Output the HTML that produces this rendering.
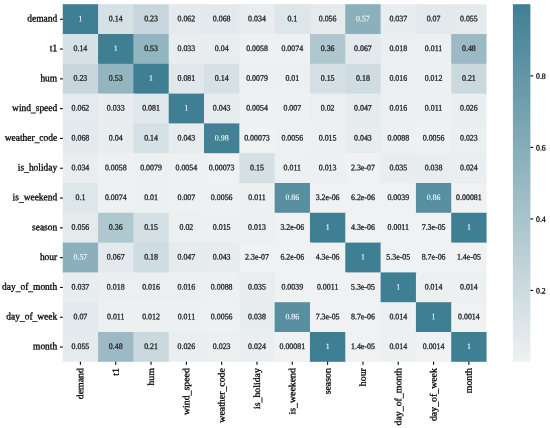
<!DOCTYPE html>
<html><head><meta charset="utf-8"><title>heatmap</title>
<style>
html,body{margin:0;padding:0;background:#fff;overflow:hidden;}
svg{display:block;font-family:"Liberation Serif","Times New Roman",serif;}
.a{font-size:7.9px;text-anchor:middle;stroke-width:0.3px;}
.t{font-size:9.45px;stroke:#000;stroke-width:0.28px;}
.c{font-size:7.85px;stroke:#000;stroke-width:0.25px;}
</style></head>
<body>
<svg width="550" height="428" viewBox="0 0 550 428">
<rect x="0" y="0" width="550" height="428" fill="#ffffff"/>
<defs><linearGradient id="g" x1="0" y1="0" x2="0" y2="1"><stop offset="0" stop-color="#3f7f93"/><stop offset="1" stop-color="#eff1f2"/></linearGradient></defs>
<g>
<rect x="62.75" y="4.2" width="36.32" height="30.8" fill="#3f7f93"/><rect x="98.07" y="4.2" width="36.32" height="30.8" fill="#d6e1e5"/><rect x="133.38" y="4.2" width="36.32" height="30.8" fill="#c7d7dd"/><rect x="168.7" y="4.2" width="36.32" height="30.8" fill="#e4eaed"/><rect x="204.02" y="4.2" width="36.32" height="30.8" fill="#e3e9ec"/><rect x="239.33" y="4.2" width="36.32" height="30.8" fill="#e9edef"/><rect x="274.65" y="4.2" width="36.32" height="30.8" fill="#dde6e9"/><rect x="309.97" y="4.2" width="36.32" height="30.8" fill="#e5ebed"/><rect x="345.28" y="4.2" width="36.32" height="30.8" fill="#8bb0bc"/><rect x="380.6" y="4.2" width="36.32" height="30.8" fill="#e8edef"/><rect x="415.92" y="4.2" width="36.32" height="30.8" fill="#e3e9ec"/><rect x="451.23" y="4.2" width="35.32" height="30.8" fill="#e5ebed"/>
<rect x="62.75" y="34" width="36.32" height="30.8" fill="#d6e1e5"/><rect x="98.07" y="34" width="36.32" height="30.8" fill="#3f7f93"/><rect x="133.38" y="34" width="36.32" height="30.8" fill="#92b5c0"/><rect x="168.7" y="34" width="36.32" height="30.8" fill="#e9edef"/><rect x="204.02" y="34" width="36.32" height="30.8" fill="#e8edee"/><rect x="239.33" y="34" width="36.32" height="30.8" fill="#eef1f2"/><rect x="274.65" y="34" width="36.32" height="30.8" fill="#eef1f2"/><rect x="309.97" y="34" width="36.32" height="30.8" fill="#afc8d0"/><rect x="345.28" y="34" width="36.32" height="30.8" fill="#e3e9ec"/><rect x="380.6" y="34" width="36.32" height="30.8" fill="#eceff1"/><rect x="415.92" y="34" width="36.32" height="30.8" fill="#edf0f1"/><rect x="451.23" y="34" width="35.32" height="30.8" fill="#9bbac5"/>
<rect x="62.75" y="63.8" width="36.32" height="30.8" fill="#c7d7dd"/><rect x="98.07" y="63.8" width="36.32" height="30.8" fill="#92b5c0"/><rect x="133.38" y="63.8" width="36.32" height="30.8" fill="#3f7f93"/><rect x="168.7" y="63.8" width="36.32" height="30.8" fill="#e1e8eb"/><rect x="204.02" y="63.8" width="36.32" height="30.8" fill="#d6e1e5"/><rect x="239.33" y="63.8" width="36.32" height="30.8" fill="#edf0f1"/><rect x="274.65" y="63.8" width="36.32" height="30.8" fill="#edf0f1"/><rect x="309.97" y="63.8" width="36.32" height="30.8" fill="#d4e0e4"/><rect x="345.28" y="63.8" width="36.32" height="30.8" fill="#cfdce1"/><rect x="380.6" y="63.8" width="36.32" height="30.8" fill="#eceff1"/><rect x="415.92" y="63.8" width="36.32" height="30.8" fill="#ecf0f1"/><rect x="451.23" y="63.8" width="35.32" height="30.8" fill="#cad9de"/>
<rect x="62.75" y="93.6" width="36.32" height="30.8" fill="#e4eaed"/><rect x="98.07" y="93.6" width="36.32" height="30.8" fill="#e9edef"/><rect x="133.38" y="93.6" width="36.32" height="30.8" fill="#e1e8eb"/><rect x="168.7" y="93.6" width="36.32" height="30.8" fill="#3f7f93"/><rect x="204.02" y="93.6" width="36.32" height="30.8" fill="#e7ecee"/><rect x="239.33" y="93.6" width="36.32" height="30.8" fill="#eef1f2"/><rect x="274.65" y="93.6" width="36.32" height="30.8" fill="#eef1f2"/><rect x="309.97" y="93.6" width="36.32" height="30.8" fill="#ebeff0"/><rect x="345.28" y="93.6" width="36.32" height="30.8" fill="#e6ecee"/><rect x="380.6" y="93.6" width="36.32" height="30.8" fill="#eceff1"/><rect x="415.92" y="93.6" width="36.32" height="30.8" fill="#edf0f1"/><rect x="451.23" y="93.6" width="35.32" height="30.8" fill="#eaeef0"/>
<rect x="62.75" y="123.4" width="36.32" height="30.8" fill="#e3e9ec"/><rect x="98.07" y="123.4" width="36.32" height="30.8" fill="#e8edee"/><rect x="133.38" y="123.4" width="36.32" height="30.8" fill="#d6e1e5"/><rect x="168.7" y="123.4" width="36.32" height="30.8" fill="#e7ecee"/><rect x="204.02" y="123.4" width="36.32" height="30.8" fill="#428195"/><rect x="239.33" y="123.4" width="36.32" height="30.8" fill="#eff1f2"/><rect x="274.65" y="123.4" width="36.32" height="30.8" fill="#eef1f2"/><rect x="309.97" y="123.4" width="36.32" height="30.8" fill="#ecf0f1"/><rect x="345.28" y="123.4" width="36.32" height="30.8" fill="#e7ecee"/><rect x="380.6" y="123.4" width="36.32" height="30.8" fill="#edf0f1"/><rect x="415.92" y="123.4" width="36.32" height="30.8" fill="#eef1f2"/><rect x="451.23" y="123.4" width="35.32" height="30.8" fill="#ebeff0"/>
<rect x="62.75" y="153.2" width="36.32" height="30.8" fill="#e9edef"/><rect x="98.07" y="153.2" width="36.32" height="30.8" fill="#eef1f2"/><rect x="133.38" y="153.2" width="36.32" height="30.8" fill="#edf0f1"/><rect x="168.7" y="153.2" width="36.32" height="30.8" fill="#eef1f2"/><rect x="204.02" y="153.2" width="36.32" height="30.8" fill="#eff1f2"/><rect x="239.33" y="153.2" width="36.32" height="30.8" fill="#d4e0e4"/><rect x="274.65" y="153.2" width="36.32" height="30.8" fill="#edf0f1"/><rect x="309.97" y="153.2" width="36.32" height="30.8" fill="#ecf0f1"/><rect x="345.28" y="153.2" width="36.32" height="30.8" fill="#eff1f2"/><rect x="380.6" y="153.2" width="36.32" height="30.8" fill="#e9edef"/><rect x="415.92" y="153.2" width="36.32" height="30.8" fill="#e8edef"/><rect x="451.23" y="153.2" width="35.32" height="30.8" fill="#eaeef0"/>
<rect x="62.75" y="183" width="36.32" height="30.8" fill="#dde6e9"/><rect x="98.07" y="183" width="36.32" height="30.8" fill="#eef1f2"/><rect x="133.38" y="183" width="36.32" height="30.8" fill="#edf0f1"/><rect x="168.7" y="183" width="36.32" height="30.8" fill="#eef1f2"/><rect x="204.02" y="183" width="36.32" height="30.8" fill="#eef1f2"/><rect x="239.33" y="183" width="36.32" height="30.8" fill="#edf0f1"/><rect x="274.65" y="183" width="36.32" height="30.8" fill="#578fa0"/><rect x="309.97" y="183" width="36.32" height="30.8" fill="#eff1f2"/><rect x="345.28" y="183" width="36.32" height="30.8" fill="#eff1f2"/><rect x="380.6" y="183" width="36.32" height="30.8" fill="#eff1f2"/><rect x="415.92" y="183" width="36.32" height="30.8" fill="#578fa0"/><rect x="451.23" y="183" width="35.32" height="30.8" fill="#eff1f2"/>
<rect x="62.75" y="212.8" width="36.32" height="30.8" fill="#e5ebed"/><rect x="98.07" y="212.8" width="36.32" height="30.8" fill="#afc8d0"/><rect x="133.38" y="212.8" width="36.32" height="30.8" fill="#d4e0e4"/><rect x="168.7" y="212.8" width="36.32" height="30.8" fill="#ebeff0"/><rect x="204.02" y="212.8" width="36.32" height="30.8" fill="#ecf0f1"/><rect x="239.33" y="212.8" width="36.32" height="30.8" fill="#ecf0f1"/><rect x="274.65" y="212.8" width="36.32" height="30.8" fill="#eff1f2"/><rect x="309.97" y="212.8" width="36.32" height="30.8" fill="#3f7f93"/><rect x="345.28" y="212.8" width="36.32" height="30.8" fill="#eff1f2"/><rect x="380.6" y="212.8" width="36.32" height="30.8" fill="#eff1f2"/><rect x="415.92" y="212.8" width="36.32" height="30.8" fill="#eff1f2"/><rect x="451.23" y="212.8" width="35.32" height="30.8" fill="#3f7f93"/>
<rect x="62.75" y="242.6" width="36.32" height="30.8" fill="#8bb0bc"/><rect x="98.07" y="242.6" width="36.32" height="30.8" fill="#e3e9ec"/><rect x="133.38" y="242.6" width="36.32" height="30.8" fill="#cfdce1"/><rect x="168.7" y="242.6" width="36.32" height="30.8" fill="#e6ecee"/><rect x="204.02" y="242.6" width="36.32" height="30.8" fill="#e7ecee"/><rect x="239.33" y="242.6" width="36.32" height="30.8" fill="#eff1f2"/><rect x="274.65" y="242.6" width="36.32" height="30.8" fill="#eff1f2"/><rect x="309.97" y="242.6" width="36.32" height="30.8" fill="#eff1f2"/><rect x="345.28" y="242.6" width="36.32" height="30.8" fill="#3f7f93"/><rect x="380.6" y="242.6" width="36.32" height="30.8" fill="#eff1f2"/><rect x="415.92" y="242.6" width="36.32" height="30.8" fill="#eff1f2"/><rect x="451.23" y="242.6" width="35.32" height="30.8" fill="#eff1f2"/>
<rect x="62.75" y="272.4" width="36.32" height="30.8" fill="#e8edef"/><rect x="98.07" y="272.4" width="36.32" height="30.8" fill="#eceff1"/><rect x="133.38" y="272.4" width="36.32" height="30.8" fill="#eceff1"/><rect x="168.7" y="272.4" width="36.32" height="30.8" fill="#eceff1"/><rect x="204.02" y="272.4" width="36.32" height="30.8" fill="#edf0f1"/><rect x="239.33" y="272.4" width="36.32" height="30.8" fill="#e9edef"/><rect x="274.65" y="272.4" width="36.32" height="30.8" fill="#eff1f2"/><rect x="309.97" y="272.4" width="36.32" height="30.8" fill="#eff1f2"/><rect x="345.28" y="272.4" width="36.32" height="30.8" fill="#eff1f2"/><rect x="380.6" y="272.4" width="36.32" height="30.8" fill="#3f7f93"/><rect x="415.92" y="272.4" width="36.32" height="30.8" fill="#ecf0f1"/><rect x="451.23" y="272.4" width="35.32" height="30.8" fill="#ecf0f1"/>
<rect x="62.75" y="302.2" width="36.32" height="30.8" fill="#e3e9ec"/><rect x="98.07" y="302.2" width="36.32" height="30.8" fill="#edf0f1"/><rect x="133.38" y="302.2" width="36.32" height="30.8" fill="#ecf0f1"/><rect x="168.7" y="302.2" width="36.32" height="30.8" fill="#edf0f1"/><rect x="204.02" y="302.2" width="36.32" height="30.8" fill="#eef1f2"/><rect x="239.33" y="302.2" width="36.32" height="30.8" fill="#e8edef"/><rect x="274.65" y="302.2" width="36.32" height="30.8" fill="#578fa0"/><rect x="309.97" y="302.2" width="36.32" height="30.8" fill="#eff1f2"/><rect x="345.28" y="302.2" width="36.32" height="30.8" fill="#eff1f2"/><rect x="380.6" y="302.2" width="36.32" height="30.8" fill="#ecf0f1"/><rect x="415.92" y="302.2" width="36.32" height="30.8" fill="#3f7f93"/><rect x="451.23" y="302.2" width="35.32" height="30.8" fill="#eff1f2"/>
<rect x="62.75" y="332" width="36.32" height="29.8" fill="#e5ebed"/><rect x="98.07" y="332" width="36.32" height="29.8" fill="#9bbac5"/><rect x="133.38" y="332" width="36.32" height="29.8" fill="#cad9de"/><rect x="168.7" y="332" width="36.32" height="29.8" fill="#eaeef0"/><rect x="204.02" y="332" width="36.32" height="29.8" fill="#ebeff0"/><rect x="239.33" y="332" width="36.32" height="29.8" fill="#eaeef0"/><rect x="274.65" y="332" width="36.32" height="29.8" fill="#eff1f2"/><rect x="309.97" y="332" width="36.32" height="29.8" fill="#3f7f93"/><rect x="345.28" y="332" width="36.32" height="29.8" fill="#eff1f2"/><rect x="380.6" y="332" width="36.32" height="29.8" fill="#ecf0f1"/><rect x="415.92" y="332" width="36.32" height="29.8" fill="#eff1f2"/><rect x="451.23" y="332" width="35.32" height="29.8" fill="#3f7f93"/>
</g>
<text class="a" fill="#ffffff" stroke="#ffffff" style="stroke-width:0.08px" transform="translate(80.41 21.2) scale(1 1.055) rotate(0.05)">1</text><text class="a" fill="#262626" stroke="#262626" transform="translate(115.73 21.2) scale(1 1.055) rotate(0.05)">0.14</text><text class="a" fill="#262626" stroke="#262626" transform="translate(151.04 21.2) scale(1 1.055) rotate(0.05)">0.23</text><text class="a" fill="#262626" stroke="#262626" transform="translate(186.36 21.2) scale(1 1.055) rotate(0.05)">0.062</text><text class="a" fill="#262626" stroke="#262626" transform="translate(221.68 21.2) scale(1 1.055) rotate(0.05)">0.068</text><text class="a" fill="#262626" stroke="#262626" transform="translate(256.99 21.2) scale(1 1.055) rotate(0.05)">0.034</text><text class="a" fill="#262626" stroke="#262626" transform="translate(292.31 21.2) scale(1 1.055) rotate(0.05)">0.1</text><text class="a" fill="#262626" stroke="#262626" transform="translate(327.62 21.2) scale(1 1.055) rotate(0.05)">0.056</text><text class="a" fill="#ffffff" stroke="#ffffff" style="stroke-width:0.08px" transform="translate(362.94 21.2) scale(1 1.055) rotate(0.05)">0.57</text><text class="a" fill="#262626" stroke="#262626" transform="translate(398.26 21.2) scale(1 1.055) rotate(0.05)">0.037</text><text class="a" fill="#262626" stroke="#262626" transform="translate(433.58 21.2) scale(1 1.055) rotate(0.05)">0.07</text><text class="a" fill="#262626" stroke="#262626" transform="translate(468.89 21.2) scale(1 1.055) rotate(0.05)">0.055</text>
<text class="a" fill="#262626" stroke="#262626" transform="translate(80.41 51) scale(1 1.055) rotate(0.05)">0.14</text><text class="a" fill="#ffffff" stroke="#ffffff" style="stroke-width:0.08px" transform="translate(115.73 51) scale(1 1.055) rotate(0.05)">1</text><text class="a" fill="#262626" stroke="#262626" transform="translate(151.04 51) scale(1 1.055) rotate(0.05)">0.53</text><text class="a" fill="#262626" stroke="#262626" transform="translate(186.36 51) scale(1 1.055) rotate(0.05)">0.033</text><text class="a" fill="#262626" stroke="#262626" transform="translate(221.68 51) scale(1 1.055) rotate(0.05)">0.04</text><text class="a" fill="#262626" stroke="#262626" transform="translate(256.99 51) scale(1 1.055) rotate(0.05)">0.0058</text><text class="a" fill="#262626" stroke="#262626" transform="translate(292.31 51) scale(1 1.055) rotate(0.05)">0.0074</text><text class="a" fill="#262626" stroke="#262626" transform="translate(327.62 51) scale(1 1.055) rotate(0.05)">0.36</text><text class="a" fill="#262626" stroke="#262626" transform="translate(362.94 51) scale(1 1.055) rotate(0.05)">0.067</text><text class="a" fill="#262626" stroke="#262626" transform="translate(398.26 51) scale(1 1.055) rotate(0.05)">0.018</text><text class="a" fill="#262626" stroke="#262626" transform="translate(433.58 51) scale(1 1.055) rotate(0.05)">0.011</text><text class="a" fill="#262626" stroke="#262626" transform="translate(468.89 51) scale(1 1.055) rotate(0.05)">0.48</text>
<text class="a" fill="#262626" stroke="#262626" transform="translate(80.41 80.8) scale(1 1.055) rotate(0.05)">0.23</text><text class="a" fill="#262626" stroke="#262626" transform="translate(115.73 80.8) scale(1 1.055) rotate(0.05)">0.53</text><text class="a" fill="#ffffff" stroke="#ffffff" style="stroke-width:0.08px" transform="translate(151.04 80.8) scale(1 1.055) rotate(0.05)">1</text><text class="a" fill="#262626" stroke="#262626" transform="translate(186.36 80.8) scale(1 1.055) rotate(0.05)">0.081</text><text class="a" fill="#262626" stroke="#262626" transform="translate(221.68 80.8) scale(1 1.055) rotate(0.05)">0.14</text><text class="a" fill="#262626" stroke="#262626" transform="translate(256.99 80.8) scale(1 1.055) rotate(0.05)">0.0079</text><text class="a" fill="#262626" stroke="#262626" transform="translate(292.31 80.8) scale(1 1.055) rotate(0.05)">0.01</text><text class="a" fill="#262626" stroke="#262626" transform="translate(327.62 80.8) scale(1 1.055) rotate(0.05)">0.15</text><text class="a" fill="#262626" stroke="#262626" transform="translate(362.94 80.8) scale(1 1.055) rotate(0.05)">0.18</text><text class="a" fill="#262626" stroke="#262626" transform="translate(398.26 80.8) scale(1 1.055) rotate(0.05)">0.016</text><text class="a" fill="#262626" stroke="#262626" transform="translate(433.58 80.8) scale(1 1.055) rotate(0.05)">0.012</text><text class="a" fill="#262626" stroke="#262626" transform="translate(468.89 80.8) scale(1 1.055) rotate(0.05)">0.21</text>
<text class="a" fill="#262626" stroke="#262626" transform="translate(80.41 110.6) scale(1 1.055) rotate(0.05)">0.062</text><text class="a" fill="#262626" stroke="#262626" transform="translate(115.73 110.6) scale(1 1.055) rotate(0.05)">0.033</text><text class="a" fill="#262626" stroke="#262626" transform="translate(151.04 110.6) scale(1 1.055) rotate(0.05)">0.081</text><text class="a" fill="#ffffff" stroke="#ffffff" style="stroke-width:0.08px" transform="translate(186.36 110.6) scale(1 1.055) rotate(0.05)">1</text><text class="a" fill="#262626" stroke="#262626" transform="translate(221.68 110.6) scale(1 1.055) rotate(0.05)">0.043</text><text class="a" fill="#262626" stroke="#262626" transform="translate(256.99 110.6) scale(1 1.055) rotate(0.05)">0.0054</text><text class="a" fill="#262626" stroke="#262626" transform="translate(292.31 110.6) scale(1 1.055) rotate(0.05)">0.007</text><text class="a" fill="#262626" stroke="#262626" transform="translate(327.62 110.6) scale(1 1.055) rotate(0.05)">0.02</text><text class="a" fill="#262626" stroke="#262626" transform="translate(362.94 110.6) scale(1 1.055) rotate(0.05)">0.047</text><text class="a" fill="#262626" stroke="#262626" transform="translate(398.26 110.6) scale(1 1.055) rotate(0.05)">0.016</text><text class="a" fill="#262626" stroke="#262626" transform="translate(433.58 110.6) scale(1 1.055) rotate(0.05)">0.011</text><text class="a" fill="#262626" stroke="#262626" transform="translate(468.89 110.6) scale(1 1.055) rotate(0.05)">0.026</text>
<text class="a" fill="#262626" stroke="#262626" transform="translate(80.41 140.4) scale(1 1.055) rotate(0.05)">0.068</text><text class="a" fill="#262626" stroke="#262626" transform="translate(115.73 140.4) scale(1 1.055) rotate(0.05)">0.04</text><text class="a" fill="#262626" stroke="#262626" transform="translate(151.04 140.4) scale(1 1.055) rotate(0.05)">0.14</text><text class="a" fill="#262626" stroke="#262626" transform="translate(186.36 140.4) scale(1 1.055) rotate(0.05)">0.043</text><text class="a" fill="#ffffff" stroke="#ffffff" style="stroke-width:0.08px" transform="translate(221.68 140.4) scale(1 1.055) rotate(0.05)">0.98</text><text class="a" fill="#262626" stroke="#262626" transform="translate(256.99 140.4) scale(1 1.055) rotate(0.05)">0.00073</text><text class="a" fill="#262626" stroke="#262626" transform="translate(292.31 140.4) scale(1 1.055) rotate(0.05)">0.0056</text><text class="a" fill="#262626" stroke="#262626" transform="translate(327.62 140.4) scale(1 1.055) rotate(0.05)">0.015</text><text class="a" fill="#262626" stroke="#262626" transform="translate(362.94 140.4) scale(1 1.055) rotate(0.05)">0.043</text><text class="a" fill="#262626" stroke="#262626" transform="translate(398.26 140.4) scale(1 1.055) rotate(0.05)">0.0088</text><text class="a" fill="#262626" stroke="#262626" transform="translate(433.58 140.4) scale(1 1.055) rotate(0.05)">0.0056</text><text class="a" fill="#262626" stroke="#262626" transform="translate(468.89 140.4) scale(1 1.055) rotate(0.05)">0.023</text>
<text class="a" fill="#262626" stroke="#262626" transform="translate(80.41 170.2) scale(1 1.055) rotate(0.05)">0.034</text><text class="a" fill="#262626" stroke="#262626" transform="translate(115.73 170.2) scale(1 1.055) rotate(0.05)">0.0058</text><text class="a" fill="#262626" stroke="#262626" transform="translate(151.04 170.2) scale(1 1.055) rotate(0.05)">0.0079</text><text class="a" fill="#262626" stroke="#262626" transform="translate(186.36 170.2) scale(1 1.055) rotate(0.05)">0.0054</text><text class="a" fill="#262626" stroke="#262626" transform="translate(221.68 170.2) scale(1 1.055) rotate(0.05)">0.00073</text><text class="a" fill="#262626" stroke="#262626" transform="translate(256.99 170.2) scale(1 1.055) rotate(0.05)">0.15</text><text class="a" fill="#262626" stroke="#262626" transform="translate(292.31 170.2) scale(1 1.055) rotate(0.05)">0.011</text><text class="a" fill="#262626" stroke="#262626" transform="translate(327.62 170.2) scale(1 1.055) rotate(0.05)">0.013</text><text class="a" fill="#262626" stroke="#262626" transform="translate(362.94 170.2) scale(1 1.055) rotate(0.05)">2.3e-07</text><text class="a" fill="#262626" stroke="#262626" transform="translate(398.26 170.2) scale(1 1.055) rotate(0.05)">0.035</text><text class="a" fill="#262626" stroke="#262626" transform="translate(433.58 170.2) scale(1 1.055) rotate(0.05)">0.038</text><text class="a" fill="#262626" stroke="#262626" transform="translate(468.89 170.2) scale(1 1.055) rotate(0.05)">0.024</text>
<text class="a" fill="#262626" stroke="#262626" transform="translate(80.41 200) scale(1 1.055) rotate(0.05)">0.1</text><text class="a" fill="#262626" stroke="#262626" transform="translate(115.73 200) scale(1 1.055) rotate(0.05)">0.0074</text><text class="a" fill="#262626" stroke="#262626" transform="translate(151.04 200) scale(1 1.055) rotate(0.05)">0.01</text><text class="a" fill="#262626" stroke="#262626" transform="translate(186.36 200) scale(1 1.055) rotate(0.05)">0.007</text><text class="a" fill="#262626" stroke="#262626" transform="translate(221.68 200) scale(1 1.055) rotate(0.05)">0.0056</text><text class="a" fill="#262626" stroke="#262626" transform="translate(256.99 200) scale(1 1.055) rotate(0.05)">0.011</text><text class="a" fill="#ffffff" stroke="#ffffff" style="stroke-width:0.08px" transform="translate(292.31 200) scale(1 1.055) rotate(0.05)">0.86</text><text class="a" fill="#262626" stroke="#262626" transform="translate(327.62 200) scale(1 1.055) rotate(0.05)">3.2e-06</text><text class="a" fill="#262626" stroke="#262626" transform="translate(362.94 200) scale(1 1.055) rotate(0.05)">6.2e-06</text><text class="a" fill="#262626" stroke="#262626" transform="translate(398.26 200) scale(1 1.055) rotate(0.05)">0.0039</text><text class="a" fill="#ffffff" stroke="#ffffff" style="stroke-width:0.08px" transform="translate(433.58 200) scale(1 1.055) rotate(0.05)">0.86</text><text class="a" fill="#262626" stroke="#262626" transform="translate(468.89 200) scale(1 1.055) rotate(0.05)">0.00081</text>
<text class="a" fill="#262626" stroke="#262626" transform="translate(80.41 229.8) scale(1 1.055) rotate(0.05)">0.056</text><text class="a" fill="#262626" stroke="#262626" transform="translate(115.73 229.8) scale(1 1.055) rotate(0.05)">0.36</text><text class="a" fill="#262626" stroke="#262626" transform="translate(151.04 229.8) scale(1 1.055) rotate(0.05)">0.15</text><text class="a" fill="#262626" stroke="#262626" transform="translate(186.36 229.8) scale(1 1.055) rotate(0.05)">0.02</text><text class="a" fill="#262626" stroke="#262626" transform="translate(221.68 229.8) scale(1 1.055) rotate(0.05)">0.015</text><text class="a" fill="#262626" stroke="#262626" transform="translate(256.99 229.8) scale(1 1.055) rotate(0.05)">0.013</text><text class="a" fill="#262626" stroke="#262626" transform="translate(292.31 229.8) scale(1 1.055) rotate(0.05)">3.2e-06</text><text class="a" fill="#ffffff" stroke="#ffffff" style="stroke-width:0.08px" transform="translate(327.62 229.8) scale(1 1.055) rotate(0.05)">1</text><text class="a" fill="#262626" stroke="#262626" transform="translate(362.94 229.8) scale(1 1.055) rotate(0.05)">4.3e-06</text><text class="a" fill="#262626" stroke="#262626" transform="translate(398.26 229.8) scale(1 1.055) rotate(0.05)">0.0011</text><text class="a" fill="#262626" stroke="#262626" transform="translate(433.58 229.8) scale(1 1.055) rotate(0.05)">7.3e-05</text><text class="a" fill="#ffffff" stroke="#ffffff" style="stroke-width:0.08px" transform="translate(468.89 229.8) scale(1 1.055) rotate(0.05)">1</text>
<text class="a" fill="#ffffff" stroke="#ffffff" style="stroke-width:0.08px" transform="translate(80.41 259.6) scale(1 1.055) rotate(0.05)">0.57</text><text class="a" fill="#262626" stroke="#262626" transform="translate(115.73 259.6) scale(1 1.055) rotate(0.05)">0.067</text><text class="a" fill="#262626" stroke="#262626" transform="translate(151.04 259.6) scale(1 1.055) rotate(0.05)">0.18</text><text class="a" fill="#262626" stroke="#262626" transform="translate(186.36 259.6) scale(1 1.055) rotate(0.05)">0.047</text><text class="a" fill="#262626" stroke="#262626" transform="translate(221.68 259.6) scale(1 1.055) rotate(0.05)">0.043</text><text class="a" fill="#262626" stroke="#262626" transform="translate(256.99 259.6) scale(1 1.055) rotate(0.05)">2.3e-07</text><text class="a" fill="#262626" stroke="#262626" transform="translate(292.31 259.6) scale(1 1.055) rotate(0.05)">6.2e-06</text><text class="a" fill="#262626" stroke="#262626" transform="translate(327.62 259.6) scale(1 1.055) rotate(0.05)">4.3e-06</text><text class="a" fill="#ffffff" stroke="#ffffff" style="stroke-width:0.08px" transform="translate(362.94 259.6) scale(1 1.055) rotate(0.05)">1</text><text class="a" fill="#262626" stroke="#262626" transform="translate(398.26 259.6) scale(1 1.055) rotate(0.05)">5.3e-05</text><text class="a" fill="#262626" stroke="#262626" transform="translate(433.58 259.6) scale(1 1.055) rotate(0.05)">8.7e-06</text><text class="a" fill="#262626" stroke="#262626" transform="translate(468.89 259.6) scale(1 1.055) rotate(0.05)">1.4e-05</text>
<text class="a" fill="#262626" stroke="#262626" transform="translate(80.41 289.4) scale(1 1.055) rotate(0.05)">0.037</text><text class="a" fill="#262626" stroke="#262626" transform="translate(115.73 289.4) scale(1 1.055) rotate(0.05)">0.018</text><text class="a" fill="#262626" stroke="#262626" transform="translate(151.04 289.4) scale(1 1.055) rotate(0.05)">0.016</text><text class="a" fill="#262626" stroke="#262626" transform="translate(186.36 289.4) scale(1 1.055) rotate(0.05)">0.016</text><text class="a" fill="#262626" stroke="#262626" transform="translate(221.68 289.4) scale(1 1.055) rotate(0.05)">0.0088</text><text class="a" fill="#262626" stroke="#262626" transform="translate(256.99 289.4) scale(1 1.055) rotate(0.05)">0.035</text><text class="a" fill="#262626" stroke="#262626" transform="translate(292.31 289.4) scale(1 1.055) rotate(0.05)">0.0039</text><text class="a" fill="#262626" stroke="#262626" transform="translate(327.62 289.4) scale(1 1.055) rotate(0.05)">0.0011</text><text class="a" fill="#262626" stroke="#262626" transform="translate(362.94 289.4) scale(1 1.055) rotate(0.05)">5.3e-05</text><text class="a" fill="#ffffff" stroke="#ffffff" style="stroke-width:0.08px" transform="translate(398.26 289.4) scale(1 1.055) rotate(0.05)">1</text><text class="a" fill="#262626" stroke="#262626" transform="translate(433.58 289.4) scale(1 1.055) rotate(0.05)">0.014</text><text class="a" fill="#262626" stroke="#262626" transform="translate(468.89 289.4) scale(1 1.055) rotate(0.05)">0.014</text>
<text class="a" fill="#262626" stroke="#262626" transform="translate(80.41 319.2) scale(1 1.055) rotate(0.05)">0.07</text><text class="a" fill="#262626" stroke="#262626" transform="translate(115.73 319.2) scale(1 1.055) rotate(0.05)">0.011</text><text class="a" fill="#262626" stroke="#262626" transform="translate(151.04 319.2) scale(1 1.055) rotate(0.05)">0.012</text><text class="a" fill="#262626" stroke="#262626" transform="translate(186.36 319.2) scale(1 1.055) rotate(0.05)">0.011</text><text class="a" fill="#262626" stroke="#262626" transform="translate(221.68 319.2) scale(1 1.055) rotate(0.05)">0.0056</text><text class="a" fill="#262626" stroke="#262626" transform="translate(256.99 319.2) scale(1 1.055) rotate(0.05)">0.038</text><text class="a" fill="#ffffff" stroke="#ffffff" style="stroke-width:0.08px" transform="translate(292.31 319.2) scale(1 1.055) rotate(0.05)">0.86</text><text class="a" fill="#262626" stroke="#262626" transform="translate(327.62 319.2) scale(1 1.055) rotate(0.05)">7.3e-05</text><text class="a" fill="#262626" stroke="#262626" transform="translate(362.94 319.2) scale(1 1.055) rotate(0.05)">8.7e-06</text><text class="a" fill="#262626" stroke="#262626" transform="translate(398.26 319.2) scale(1 1.055) rotate(0.05)">0.014</text><text class="a" fill="#ffffff" stroke="#ffffff" style="stroke-width:0.08px" transform="translate(433.58 319.2) scale(1 1.055) rotate(0.05)">1</text><text class="a" fill="#262626" stroke="#262626" transform="translate(468.89 319.2) scale(1 1.055) rotate(0.05)">0.0014</text>
<text class="a" fill="#262626" stroke="#262626" transform="translate(80.41 349) scale(1 1.055) rotate(0.05)">0.055</text><text class="a" fill="#262626" stroke="#262626" transform="translate(115.73 349) scale(1 1.055) rotate(0.05)">0.48</text><text class="a" fill="#262626" stroke="#262626" transform="translate(151.04 349) scale(1 1.055) rotate(0.05)">0.21</text><text class="a" fill="#262626" stroke="#262626" transform="translate(186.36 349) scale(1 1.055) rotate(0.05)">0.026</text><text class="a" fill="#262626" stroke="#262626" transform="translate(221.68 349) scale(1 1.055) rotate(0.05)">0.023</text><text class="a" fill="#262626" stroke="#262626" transform="translate(256.99 349) scale(1 1.055) rotate(0.05)">0.024</text><text class="a" fill="#262626" stroke="#262626" transform="translate(292.31 349) scale(1 1.055) rotate(0.05)">0.00081</text><text class="a" fill="#ffffff" stroke="#ffffff" style="stroke-width:0.08px" transform="translate(327.62 349) scale(1 1.055) rotate(0.05)">1</text><text class="a" fill="#262626" stroke="#262626" transform="translate(362.94 349) scale(1 1.055) rotate(0.05)">1.4e-05</text><text class="a" fill="#262626" stroke="#262626" transform="translate(398.26 349) scale(1 1.055) rotate(0.05)">0.014</text><text class="a" fill="#262626" stroke="#262626" transform="translate(433.58 349) scale(1 1.055) rotate(0.05)">0.0014</text><text class="a" fill="#ffffff" stroke="#ffffff" style="stroke-width:0.08px" transform="translate(468.89 349) scale(1 1.055) rotate(0.05)">1</text>
<line x1="60.05" y1="19.25" x2="62.75" y2="19.25" stroke="#000000" stroke-width="1.1"/><text class="t" fill="#000000" text-anchor="end" transform="translate(57.2 21.55) scale(1 1.055) rotate(0.05)">demand</text>
<line x1="60.05" y1="49.05" x2="62.75" y2="49.05" stroke="#000000" stroke-width="1.1"/><text class="t" fill="#000000" text-anchor="end" transform="translate(57.2 51.35) scale(1 1.055) rotate(0.05)">t1</text>
<line x1="60.05" y1="78.85" x2="62.75" y2="78.85" stroke="#000000" stroke-width="1.1"/><text class="t" fill="#000000" text-anchor="end" transform="translate(57.2 81.15) scale(1 1.055) rotate(0.05)">hum</text>
<line x1="60.05" y1="108.65" x2="62.75" y2="108.65" stroke="#000000" stroke-width="1.1"/><text class="t" fill="#000000" text-anchor="end" transform="translate(57.2 110.95) scale(1 1.055) rotate(0.05)">wind<tspan dy="0.95">_</tspan><tspan dy="-0.95">speed</tspan></text>
<line x1="60.05" y1="138.45" x2="62.75" y2="138.45" stroke="#000000" stroke-width="1.1"/><text class="t" fill="#000000" text-anchor="end" transform="translate(57.2 140.75) scale(1 1.055) rotate(0.05)">weather<tspan dy="0.95">_</tspan><tspan dy="-0.95">code</tspan></text>
<line x1="60.05" y1="168.25" x2="62.75" y2="168.25" stroke="#000000" stroke-width="1.1"/><text class="t" fill="#000000" text-anchor="end" transform="translate(57.2 170.55) scale(1 1.055) rotate(0.05)">is<tspan dy="0.95">_</tspan><tspan dy="-0.95">holiday</tspan></text>
<line x1="60.05" y1="198.05" x2="62.75" y2="198.05" stroke="#000000" stroke-width="1.1"/><text class="t" fill="#000000" text-anchor="end" transform="translate(57.2 200.35) scale(1 1.055) rotate(0.05)">is<tspan dy="0.95">_</tspan><tspan dy="-0.95">weekend</tspan></text>
<line x1="60.05" y1="227.85" x2="62.75" y2="227.85" stroke="#000000" stroke-width="1.1"/><text class="t" fill="#000000" text-anchor="end" transform="translate(57.2 230.15) scale(1 1.055) rotate(0.05)">season</text>
<line x1="60.05" y1="257.65" x2="62.75" y2="257.65" stroke="#000000" stroke-width="1.1"/><text class="t" fill="#000000" text-anchor="end" transform="translate(57.2 259.95) scale(1 1.055) rotate(0.05)">hour</text>
<line x1="60.05" y1="287.45" x2="62.75" y2="287.45" stroke="#000000" stroke-width="1.1"/><text class="t" fill="#000000" text-anchor="end" transform="translate(57.2 289.75) scale(1 1.055) rotate(0.05)">day<tspan dy="0.95">_</tspan><tspan dy="-0.95">of</tspan><tspan dy="0.95">_</tspan><tspan dy="-0.95">month</tspan></text>
<line x1="60.05" y1="317.25" x2="62.75" y2="317.25" stroke="#000000" stroke-width="1.1"/><text class="t" fill="#000000" text-anchor="end" transform="translate(57.2 319.55) scale(1 1.055) rotate(0.05)">day<tspan dy="0.95">_</tspan><tspan dy="-0.95">of</tspan><tspan dy="0.95">_</tspan><tspan dy="-0.95">week</tspan></text>
<line x1="60.05" y1="347.05" x2="62.75" y2="347.05" stroke="#000000" stroke-width="1.1"/><text class="t" fill="#000000" text-anchor="end" transform="translate(57.2 349.35) scale(1 1.055) rotate(0.05)">month</text>
<line x1="80.41" y1="361.8" x2="80.41" y2="364.8" stroke="#000000" stroke-width="1.1"/><text class="t" fill="#000000" text-anchor="end" transform="translate(83.31 368.15) scale(1 1.041) rotate(-90.05)">demand</text>
<line x1="115.73" y1="361.8" x2="115.73" y2="364.8" stroke="#000000" stroke-width="1.1"/><text class="t" fill="#000000" text-anchor="end" transform="translate(118.63 368.15) scale(1 1.041) rotate(-90.05)">t1</text>
<line x1="151.04" y1="361.8" x2="151.04" y2="364.8" stroke="#000000" stroke-width="1.1"/><text class="t" fill="#000000" text-anchor="end" transform="translate(153.94 368.15) scale(1 1.041) rotate(-90.05)">hum</text>
<line x1="186.36" y1="361.8" x2="186.36" y2="364.8" stroke="#000000" stroke-width="1.1"/><text class="t" fill="#000000" text-anchor="end" transform="translate(189.26 368.15) scale(1 1.041) rotate(-90.05)">wind<tspan dy="0.95">_</tspan><tspan dy="-0.95">speed</tspan></text>
<line x1="221.68" y1="361.8" x2="221.68" y2="364.8" stroke="#000000" stroke-width="1.1"/><text class="t" fill="#000000" text-anchor="end" transform="translate(224.58 368.15) scale(1 1.041) rotate(-90.05)">weather<tspan dy="0.95">_</tspan><tspan dy="-0.95">code</tspan></text>
<line x1="256.99" y1="361.8" x2="256.99" y2="364.8" stroke="#000000" stroke-width="1.1"/><text class="t" fill="#000000" text-anchor="end" transform="translate(259.89 368.15) scale(1 1.041) rotate(-90.05)">is<tspan dy="0.95">_</tspan><tspan dy="-0.95">holiday</tspan></text>
<line x1="292.31" y1="361.8" x2="292.31" y2="364.8" stroke="#000000" stroke-width="1.1"/><text class="t" fill="#000000" text-anchor="end" transform="translate(295.21 368.15) scale(1 1.041) rotate(-90.05)">is<tspan dy="0.95">_</tspan><tspan dy="-0.95">weekend</tspan></text>
<line x1="327.62" y1="361.8" x2="327.62" y2="364.8" stroke="#000000" stroke-width="1.1"/><text class="t" fill="#000000" text-anchor="end" transform="translate(330.52 368.15) scale(1 1.041) rotate(-90.05)">season</text>
<line x1="362.94" y1="361.8" x2="362.94" y2="364.8" stroke="#000000" stroke-width="1.1"/><text class="t" fill="#000000" text-anchor="end" transform="translate(365.84 368.15) scale(1 1.041) rotate(-90.05)">hour</text>
<line x1="398.26" y1="361.8" x2="398.26" y2="364.8" stroke="#000000" stroke-width="1.1"/><text class="t" fill="#000000" text-anchor="end" transform="translate(401.16 368.15) scale(1 1.041) rotate(-90.05)">day<tspan dy="0.95">_</tspan><tspan dy="-0.95">of</tspan><tspan dy="0.95">_</tspan><tspan dy="-0.95">month</tspan></text>
<line x1="433.58" y1="361.8" x2="433.58" y2="364.8" stroke="#000000" stroke-width="1.1"/><text class="t" fill="#000000" text-anchor="end" transform="translate(436.48 368.15) scale(1 1.041) rotate(-90.05)">day<tspan dy="0.95">_</tspan><tspan dy="-0.95">of</tspan><tspan dy="0.95">_</tspan><tspan dy="-0.95">week</tspan></text>
<line x1="468.89" y1="361.8" x2="468.89" y2="364.8" stroke="#000000" stroke-width="1.1"/><text class="t" fill="#000000" text-anchor="end" transform="translate(471.79 368.15) scale(1 1.041) rotate(-90.05)">month</text>
<rect x="512.9" y="4.2" width="17.5" height="357.6" fill="url(#g)"/>
<line x1="530.4" y1="290.43" x2="533.1" y2="290.43" stroke="#000000" stroke-width="1.1"/><text class="c" fill="#000000" transform="translate(536 293.43) scale(1 1.055) rotate(0.05)">0.2</text>
<line x1="530.4" y1="218.91" x2="533.1" y2="218.91" stroke="#000000" stroke-width="1.1"/><text class="c" fill="#000000" transform="translate(536 221.91) scale(1 1.055) rotate(0.05)">0.4</text>
<line x1="530.4" y1="147.39" x2="533.1" y2="147.39" stroke="#000000" stroke-width="1.1"/><text class="c" fill="#000000" transform="translate(536 150.39) scale(1 1.055) rotate(0.05)">0.6</text>
<line x1="530.4" y1="75.87" x2="533.1" y2="75.87" stroke="#000000" stroke-width="1.1"/><text class="c" fill="#000000" transform="translate(536 78.87) scale(1 1.055) rotate(0.05)">0.8</text>
</svg>
</body></html>
